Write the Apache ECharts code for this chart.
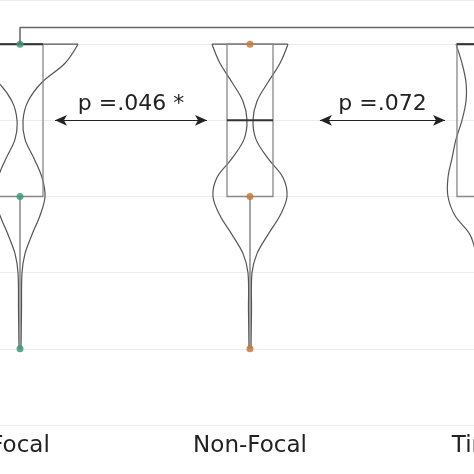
<!DOCTYPE html>
<html>
<head>
<meta charset="utf-8">
<script src="https://cdn.jsdelivr.net/npm/echarts@6/dist/echarts.min.js"></script>
<style>html,body{margin:0;padding:0;background:#fff}#c{width:474px;height:474px}</style>
</head>
<body>
<div id="c"></div>
<script>
var categories = ['Focal', 'Non-Focal', 'Time'];
var colors = ['#3e9a7c', '#c8793a', '#7a6fb0'];

// box stats: [min, q1, median, q3, max]
var boxStats = [
    [1, 3, 5, 5, 5],
    [1, 3, 4, 5, 5],
    [1, 3, 5, 5, 5]
];

// violin outline: levels and half widths (1/230 of a category step)
var levels = [5, 4.75, 4.5, 4.25, 4, 3.75, 3.5, 3.25, 3, 2.75, 2.5, 2.25, 2, 1.5, 1];
var focalWidth = [58, 45, 22, 8, 3, 5, 14, 22, 25, 20, 12, 5, 2, 1.5, 1];
var nonFocalWidth = [38, 30, 18, 7, 3, 6, 18, 33, 37, 30, 18, 7, 2, 1.5, 1];
var timeWidth = [24, 18, 14, 14, 18, 24, 28, 32, 32, 25, 10, 4, 2, 1.5, 1];
var widths = [focalWidth, nonFocalWidth, timeWidth];

var element = document.getElementById('c');
var myChart = echarts.init(element);

function renderViolin(params, api) {
    var i = api.value(0);
    var unit = api.size([1, 0])[0] / 230;
    var cx = api.coord([i, 0])[0];
    var yBase = api.coord([i, 0])[1];
    var w = widths[i];
    var left = [], right = [];
    levels.forEach(function (lv, k) {
        var y = api.coord([i, lv])[1];
        left.push([cx - w[k] * unit, y]);
        right.push([cx + w[k] * unit, y]);
    });
    var s = boxStats[i];
    var bw = 23 * unit;
    var yMin = api.coord([i, s[0]])[1];
    var yQ1 = api.coord([i, s[1]])[1];
    var yMed = api.coord([i, s[2]])[1];
    var yQ3 = api.coord([i, s[3]])[1];
    var line = {stroke: '#555', lineWidth: 1.2, fill: null};
    var children = [
        {type: 'polyline', shape: {points: left, smooth: 0.35}, style: line},
        {type: 'polyline', shape: {points: right, smooth: 0.35}, style: line},
        {type: 'line', shape: {x1: left[0][0], y1: left[0][1], x2: right[0][0], y2: right[0][1]}, style: line},
        {type: 'rect', shape: {x: cx - bw, y: yQ3, width: 2 * bw, height: yQ1 - yQ3},
            style: {stroke: '#888', lineWidth: 1.3, fill: null}},
        {type: 'line', shape: {x1: cx, y1: yQ1, x2: cx, y2: yMin}, style: {stroke: '#888', lineWidth: 1.5}},
        {type: 'line', shape: {x1: cx - bw, y1: yMed, x2: cx + bw, y2: yMed}, style: {stroke: '#333', lineWidth: 2}},
        {type: 'text', x: cx, y: yBase + 21, style: {text: categories[i], fill: '#222', fontSize: 23,
            fontFamily: 'DejaVu Sans', align: 'center', verticalAlign: 'middle'}}
    ];
    [s[0], s[1], s[4]].forEach(function (v) {
        var p = api.coord([i, v]);
        children.push({type: 'circle', shape: {cx: cx, cy: p[1], r: 3.5}, style: {fill: colors[i], opacity: 0.85}});
    });
    return {type: 'group', children: children};
}

var labelStyle = {position: 'middle', color: '#222', fontSize: 22, fontFamily: 'DejaVu Sans'};

var option = {
    animation: false,
    grid: {left: 0, right: 0, top: 0, bottom: 49},
    xAxis: {
        type: 'value',
        min: -0.087,
        max: 1.974,
        axisLabel: {show: false},
        axisTick: {show: false},
        splitLine: {show: false},
        axisLine: {lineStyle: {color: '#ececec'}}
    },
    yAxis: {
        type: 'value',
        min: 0,
        max: 5.58,
        interval: 1,
        axisLabel: {show: false},
        axisLine: {show: false},
        axisTick: {show: false},
        splitLine: {lineStyle: {color: '#ececec'}}
    },
    series: [
        {
            type: 'custom',
            renderItem: renderViolin,
            clip: false,
            data: [[0], [1], [2]],
            markLine: {
                symbol: ['arrow', 'arrow'],
                symbolSize: [8, 12],
                silent: true,
                lineStyle: {color: '#222', type: 'solid', width: 1.2},
                label: Object.assign({distance: 5}, labelStyle),
                data: [
                    [{coord: [0.152, 4], label: {formatter: 'p =.046 *'}}, {coord: [0.813, 4]}],
                    [{coord: [1.304, 4], label: {formatter: 'p =.072'}}, {coord: [1.848, 4]}]
                ]
            }
        },
        {
            type: 'line',
            data: [[0, 5], [0, 5.22], [2, 5.22]],
            symbol: 'none',
            lineStyle: {color: '#666', width: 1.5},
            markLine: {
                symbol: 'none',
                silent: true,
                lineStyle: {opacity: 0},
                label: Object.assign({distance: 1}, labelStyle),
                data: [[{coord: [0.5, 5.22], label: {formatter: 'p <.001 ***'}}, {coord: [1.5, 5.22]}]]
            }
        }
    ]
};

myChart.setOption(option);
</script>
</body>
</html>
